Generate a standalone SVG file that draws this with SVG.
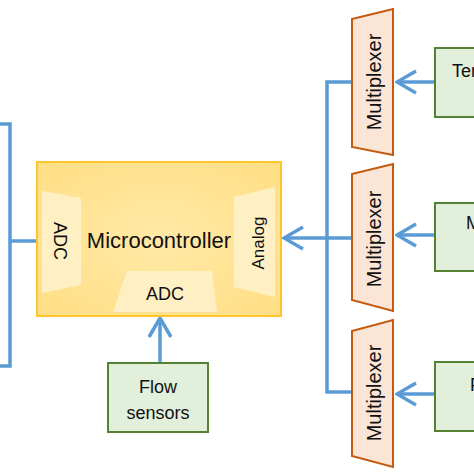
<svg xmlns="http://www.w3.org/2000/svg" width="474" height="474" viewBox="0 0 474 474">
<defs>
<radialGradient id="mcg" cx="0.5" cy="0.5" r="0.7">
<stop offset="0" stop-color="#FFE9A6"/>
<stop offset="1" stop-color="#FFDF85"/>
</radialGradient>
<marker id="ah" viewBox="-22 -13 24 26" refX="0" refY="0" markerWidth="24" markerHeight="26" markerUnits="userSpaceOnUse" orient="auto">
<path d="M-19,-11 L0,0 L-19,11" fill="none" stroke="#5B9BD5" stroke-width="3.5"/>
</marker>
<clipPath id="page"><rect x="0" y="0" width="474" height="474"/></clipPath>
</defs>
<style>
.t{font-family:"Liberation Sans",Arial,sans-serif;fill:#111;text-anchor:middle;dominant-baseline:central}
.green{fill:#E2EFDA;stroke:#548235;stroke-width:2}
.mux{fill:#FBE5D6;stroke:#C55A11;stroke-width:2}
.inner{fill:#FFF3CF;fill-opacity:0.8;stroke:none}
.wire{fill:none;stroke:#5B9BD5;stroke-width:3.5}
</style>
<rect width="474" height="474" fill="#FFFFFF"/>
<g id="connectors">
<polyline class="wire" points="0,124 10,124 10,366 0,366"/>
<line class="wire" x1="10" y1="241" x2="37" y2="241"/>
<polyline class="wire" points="352,82 327,82 327,392 352,392"/>
<line class="wire" x1="352" y1="238" x2="284" y2="238" marker-end="url(#ah)"/>
<line class="wire" x1="160" y1="363" x2="160" y2="318" marker-end="url(#ah)"/>
<line class="wire" x1="435" y1="82" x2="397" y2="82" marker-end="url(#ah)"/>
<line class="wire" x1="435" y1="235" x2="397" y2="235" marker-end="url(#ah)"/>
<line class="wire" x1="435" y1="394" x2="397" y2="394" marker-end="url(#ah)"/>
</g>
<g id="microcontroller">
<rect x="37" y="162" width="244" height="154" fill="url(#mcg)" stroke="#FFC52A" stroke-width="2"/>
<polygon class="inner" points="42,191 81,198 81,285 42,293"/>
<text class="t" font-size="18" transform="translate(60,241) rotate(90)">ADC</text>
<polygon class="inner" points="234,197 275,187 275,297 234,287"/>
<text class="t" font-size="17" transform="translate(258,243) rotate(-90)">Analog</text>
<polygon class="inner" points="127,271 212,271 217,312 113,312"/>
<text class="t" font-size="18" x="165" y="294">ADC</text>
<text class="t" font-size="22" x="159" y="240">Microcontroller</text>
</g>
<g id="flow-sensors">
<rect class="green" x="108" y="363" width="100" height="69"/>
<text class="t" font-size="18" x="158" y="387">Flow</text>
<text class="t" font-size="18" x="158" y="413">sensors</text>
</g>
<g id="mux-1">
<polygon class="mux" points="352,19 393,9 393,155 352,147"/>
<text class="t" font-size="20" transform="translate(374,82) rotate(-90)">Multiplexer</text>
</g>
<g id="mux-2">
<polygon class="mux" points="352,174 393,164 393,311 352,300"/>
<text class="t" font-size="20" transform="translate(374,239) rotate(-90)">Multiplexer</text>
</g>
<g id="mux-3">
<polygon class="mux" points="352,331 393,320 393,467 352,456"/>
<text class="t" font-size="20" transform="translate(374,393) rotate(-90)">Multiplexer</text>
</g>
<g id="sensor-1" clip-path="url(#page)">
<rect class="green" x="435" y="48" width="60" height="69"/>
<text class="t" font-size="18" x="452" y="71" style="text-anchor:start">Tem</text>
</g>
<g id="sensor-2" clip-path="url(#page)">
<rect class="green" x="435" y="203" width="60" height="68"/>
<text class="t" font-size="18" x="466" y="223" style="text-anchor:start">M</text>
</g>
<g id="sensor-3" clip-path="url(#page)">
<rect class="green" x="435" y="362" width="60" height="69"/>
<text class="t" font-size="18" x="470" y="385" style="text-anchor:start">P</text>
</g>
</svg>
